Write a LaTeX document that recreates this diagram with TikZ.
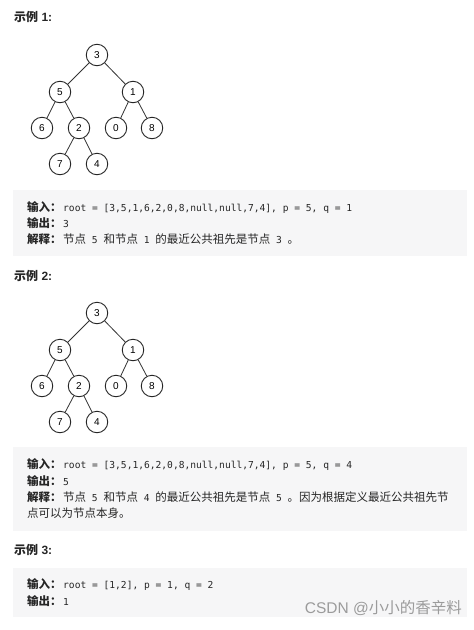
\documentclass[tikz,border=0pt]{standalone}
\usepackage{fontspec}
\setmainfont{Liberation Sans}
\setmonofont{DejaVu Sans Mono}
\newfontfamily\cjk{Noto Sans CJK SC}
\definecolor{boxbg}{RGB}{246,246,247}
\definecolor{txt}{RGB}{38,38,38}
\definecolor{wm}{RGB}{155,155,155}
\newcommand\lab[1]{\makebox[36pt][l]{\bfseries #1}}
\newcommand\mono[1]{{\ttfamily\fontsize{9.6}{14}\selectfont #1}}
\newcommand\drawtree[2]{%
  \node[tn] (#1r) at (97,#2) {3};
  \node[tn] (#1a) at (60,{#2+37}) {5};
  \node[tn] (#1b) at (133,{#2+37}) {1};
  \node[tn] (#1c) at (42,{#2+73}) {6};
  \node[tn] (#1d) at (79,{#2+73}) {2};
  \node[tn] (#1e) at (116,{#2+73}) {0};
  \node[tn] (#1f) at (152,{#2+73}) {8};
  \node[tn] (#1g) at (60,{#2+109}) {7};
  \node[tn] (#1h) at (97,{#2+109}) {4};
  \draw[ed] (#1r) -- (#1a);
  \draw[ed] (#1r) -- (#1b);
  \draw[ed] (#1a) -- (#1c);
  \draw[ed] (#1a) -- (#1d);
  \draw[ed] (#1b) -- (#1e);
  \draw[ed] (#1b) -- (#1f);
  \draw[ed] (#1d) -- (#1g);
  \draw[ed] (#1d) -- (#1h);
}
\begin{document}
\begin{tikzpicture}[x=1pt,y=-1pt,
  tn/.style={circle,draw=black!85,line width=0.9pt,minimum size=21.5pt,inner sep=0pt,
             font=\fontsize{10}{12}\selectfont},
  ed/.style={draw=black!80,line width=0.8pt},
  bg/.style={fill=boxbg,draw=none},
  ln/.style={anchor=base west,inner sep=0pt,text=txt,font=\cjk\fontsize{11.5}{14}\selectfont},
  ttl/.style={anchor=west,inner sep=0pt,text=txt,font=\bfseries\fontsize{12}{14}\selectfont}]
\useasboundingbox[fill=white] (0,0) rectangle (474,630);

% Example 1
\node[ttl] (t1) at (14,17) {{\cjk 示例} 1:};
\drawtree{a}{55}
\path[bg] (13,190) rectangle (467,256);
\node[ln] (a1) at (27,211.5) {\lab{输入：}\mono{root = [3,5,1,6,2,0,8,null,null,7,4], p = 5, q = 1}};
\node[ln] (a2) at (27,227.5) {\lab{输出：}\mono{3}};
\node[ln] (a3) at (27,243.5) {\lab{解释：}节点\mono{\ 5\ }和节点\mono{\ 1\ }的最近公共祖先是节点\mono{\ 3\ }。};

% Example 2
\node[ttl] (t2) at (14,276) {{\cjk 示例} 2:};
\drawtree{b}{313}
\path[bg] (13,447) rectangle (467,531);
\node[ln] (b1) at (27,468.5) {\lab{输入：}\mono{root = [3,5,1,6,2,0,8,null,null,7,4], p = 5, q = 4}};
\node[ln] (b2) at (27,485) {\lab{输出：}\mono{5}};
\node[ln] (b3) at (27,501.5) {\lab{解释：}节点\mono{\ 5\ }和节点\mono{\ 4\ }的最近公共祖先是节点\mono{\ 5\ }。因为根据定义最近公共祖先节};
\node[ln] (b4) at (27,517.5) {点可以为节点本身。};

% Example 3
\node[ttl] (t3) at (14,550) {{\cjk 示例} 3:};
\path[bg] (13,568) rectangle (467,617);
\node[ln] (c1) at (27,588.5) {\lab{输入：}\mono{root = [1,2], p = 1, q = 2}};
\node[ln] (c2) at (27,605) {\lab{输出：}\mono{1}};

% watermark
\node[anchor=east,inner sep=0pt,text=wm,font=\fontsize{15.5}{18}\selectfont] (wmk) at (462,608) {CSDN @{\cjk 小小的香辛料}};
\end{tikzpicture}
\end{document}
